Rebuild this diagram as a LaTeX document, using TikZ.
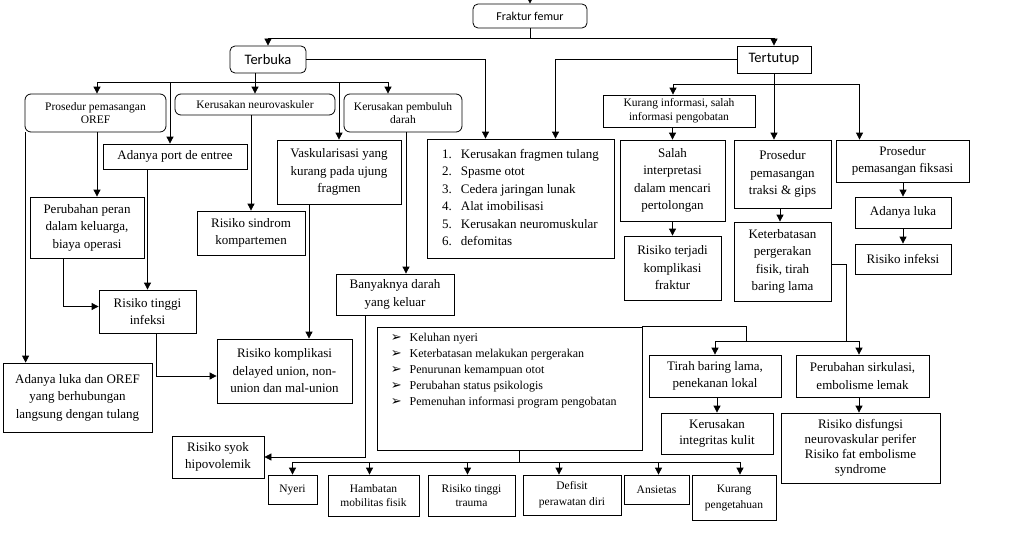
\documentclass[tikz,border=0pt]{standalone}
\usepackage{fontspec}
\setmainfont{Liberation Serif}
\newfontfamily\calibri{Carlito}
\newfontfamily\dejavu{DejaVu Sans}
\usetikzlibrary{arrows.meta, calc, positioning}

\tikzset{
  box/.style = {draw, line width=0.8pt, inner sep=1pt, align=center,
    font=\fontsize{13}{17.5}\selectfont},
  rbox/.style = {box, rounded corners=6pt},
  wh/.style 2 args = {minimum width=#1pt, minimum height=#2pt},
  smalltext/.style = {font=\fontsize{11.5}{#1}\selectfont},
  sanstext/.style = {font=\calibri\fontsize{#1}{#1}\selectfont},
  link/.style = {line width=0.8pt, -{Triangle[length=7pt,width=7pt]}},
  bus/.style = {line width=0.8pt},
}
\newcommand{\bulmark}{{\dejavu\fontsize{13}{13}\selectfont ➢}}

\begin{document}
\begin{tikzpicture}[x=1pt, y=-1pt]
  \useasboundingbox (0,0) rectangle (1027,535);

  % top level
  \coordinate (in) at (530,0);
  \node[rbox, rounded corners=5pt, wh={114}{24}, sanstext=12] (ff) at (530,16) {Fraktur femur};
  \node[rbox, rounded corners=5pt, wh={76}{27}, sanstext=14.5] (terbuka) at (268,59.5) {Terbuka};
  \node[box, wh={74}{27}, sanstext=14.5] (tertutup) at (774,59.5) {Tertutup};

  % terbuka branch
  \node[rbox, wh={141}{38}, smalltext=13.3] (oref) at (95.5,113) {Prosedur pemasangan\\OREF};
  \node[rbox, wh={160}{21}, smalltext=13.3] (neuro) at (255,104.5) {Kerusakan neurovaskuler};
  \node[rbox, wh={118}{38}, smalltext=13.3] (pembuluh) at (403,113) {Kerusakan pembuluh\\darah};
  \node[box, wh={144}{25}] (port) at (175,156.5) {Adanya port de entree};
  \node[box, wh={124}{64}] (vask) at (339,172) {Vaskularisasi yang\\kurang pada ujung\\fragmen};
  \node[box, wh={114}{61}] (peran) at (87,227.5) {Perubahan peran\\dalam keluarga,\\biaya operasi};
  \node[box, wh={108}{44}] (sindrom) at (251,233) {Risiko sindrom\\kompartemen};
  \node[box, wh={97}{43}] (inf) at (147.5,311.5) {Risiko tinggi\\infeksi};
  \node[box, wh={149}{69}] (luka) at (77.5,397.5) {Adanya luka dan OREF\\yang berhubungan\\langsung dengan tulang};
  \node[box, wh={135}{64}] (komp) at (284.5,371) {Risiko komplikasi\\delayed union, non-\\union dan mal-union};
  \node[box, wh={118}{41}] (banyak) at (395,294.5) {Banyaknya darah\\yang keluar};
  \node[box, wh={92}{42}] (syok) at (218,457) {Risiko syok\\hipovolemik};

  % shared list
  \node[box, wh={187}{119}] (list) at (520.5,198.5) {%
    \begin{tabular}{@{}l@{\hspace{9pt}}l@{}}
      1. & Kerusakan fragmen tulang\\
      2. & Spasme otot\\
      3. & Cedera jaringan lunak\\
      4. & Alat imobilisasi\\
      5. & Kerusakan neuromuskular\\
      6. & defomitas
    \end{tabular}};

  % tertutup branch
  \node[box, wh={152}{32}, smalltext=13.7] (info) at (679,111) {Kurang informasi, salah\\informasi pengobatan};
  \node[box, wh={105}{81}] (salah) at (672.5,180.5) {Salah\\interpretasi\\dalam mencari\\pertolongan};
  \node[box, wh={97}{64}] (rkf) at (672.5,268) {Risiko terjadi\\komplikasi\\fraktur};
  \node[box, wh={97}{68}] (traksi) at (782.5,174) {Prosedur\\pemasangan\\traksi \& gips};
  \node[box, wh={97}{79}] (keter) at (782.5,261.5) {Keterbatasan\\pergerakan\\fisik, tirah\\baring lama};
  \node[box, wh={133}{42}] (fiksasi) at (902.5,161) {Prosedur\\pemasangan fiksasi};
  \node[box, wh={96}{31}] (aluka) at (903,212.5) {Adanya luka};
  \node[box, wh={96}{30}] (rinf) at (903,259) {Risiko infeksi};

  % problems
  \node[box, wh={265}{123}] (bul) at (509.5,388.5) {};
  \node[anchor=north west, inner sep=0pt, align=left, font=\fontsize{12}{16}\selectfont,
        xshift=14pt, yshift=-3pt] (bultext) at (bul.north west) {%
    \begin{tabular}{@{}l@{\hspace{8pt}}l@{}}
      \bulmark & Keluhan nyeri\\
      \bulmark & Keterbatasan  melakukan pergerakan\\
      \bulmark & Penurunan kemampuan  otot\\
      \bulmark & Perubahan status psikologis\\
      \bulmark & Pemenuhan informasi program pengobatan
    \end{tabular}};
  \node[box, wh={49}{29}, smalltext=14.5] (nyeri) at (292.5,489.5) {Nyeri};
  \node[box, wh={91}{41}, smalltext=14.5] (hambatan) at (373.5,495.5) {Hambatan\\mobilitas  fisik};
  \node[box, wh={87}{41}, smalltext=14.5] (trauma) at (471.5,495.5) {Risiko tinggi\\trauma};
  \node[box, wh={98}{40}, smalltext=16] (defisit) at (572,495) {Defisit\\perawatan diri};
  \node[box, wh={65}{29}, smalltext=14.5] (ansietas) at (656.5,489.5) {Ansietas};
  \node[box, wh={84}{45}, smalltext=16] (kurang) at (734,497.5) {Kurang\\pengetahuan};
  \node[box, wh={132}{42}] (tirah) at (715,376) {Tirah baring lama,\\penekanan lokal};
  \node[box, wh={133}{42}] (sirk) at (862.5,376) {Perubahan sirkulasi,\\embolisme lemak};
  \node[box, wh={112}{41}, font=\fontsize{13}{16}\selectfont] (kulit) at (717,433.5) {Kerusakan\\integritas kulit};
  \node[box, wh={159}{70}, font=\fontsize{13}{15}\selectfont] (disf) at (860.5,448) {Risiko disfungsi\\neurovaskular perifer\\Risiko fat embolisme\\syndrome};

  % bus points
  \coordinate (b1) at (530,38);
  \coordinate (b2) at (255,82);
  \coordinate (b3) at (519,462);
  \coordinate (b4) at (746,341);
  \coordinate (b5) at (846,341);
  \coordinate (b6) at (775,84);

  % connectors from the top
  \draw[link] (in) -- (ff);
  \draw[bus] (ff) -- (b1);
  \draw[link] (b1) -| (terbuka);
  \draw[link] (b1) -| (tertutup);
  \draw[link] (terbuka.east) -| ([xshift=-35pt]list.north);
  \draw[link] (tertutup.west) -| ([xshift=35pt]list.north);

  % terbuka
  \draw[bus] ([xshift=-13pt]terbuka.south) -- (b2);
  \draw[link] (b2) -| ([xshift=1.5pt]oref.north);
  \draw[link] (b2) -| ([xshift=-5pt]port.north);
  \draw[link] (b2) -- (neuro);
  \draw[link] (b2) -| (vask);
  \draw[link] (b2) -| ([xshift=-15pt]pembuluh.north);
  \draw[link] ([xshift=1.5pt]oref.south) -- ([xshift=1.5pt]oref.south |- peran.north);
  \draw[link] ([xshift=1pt]oref.south west) -- ([xshift=1pt]oref.south west |- luka.north);
  \draw[link] (neuro.south -| sindrom) -- (sindrom);
  \draw[link] (port.south -| inf) -- (inf);
  \draw[link] ([xshift=-24pt]peran.south) |- ([yshift=5pt]inf.west);
  \draw[link] ([xshift=8.5pt]inf.south) |- ([yshift=-5pt]komp.west);
  \draw[link] ([xshift=-30pt]vask.south) -- ([xshift=-30pt]vask.south |- komp.north);
  \draw[link] ([xshift=3pt]pembuluh.south) -- ([xshift=3pt]pembuluh.south |- banyak.north);
  \draw[link] ([xshift=-30pt]banyak.south) |- (syok.east);

  % tertutup
  \draw[link] (tertutup) -- (tertutup |- traksi.north);
  \draw[link] (b6) -| ([xshift=-6pt]info.north);
  \draw[link] (b6) -| ([xshift=-43pt]fiksasi.north);
  \draw[link] (info.south -| salah) -- (salah);
  \draw[link] (salah) -- (rkf);
  \draw[link] ([xshift=-2.5pt]traksi.south) -- ([xshift=-2.5pt]traksi.south |- keter.north);
  \draw[link] (fiksasi.south -| aluka) -- (aluka);
  \draw[link] (aluka) -- (rinf);

  % problems
  \draw[bus] ([xshift=9.5pt]bul.south) -- (b3);
  \foreach \n/\dx in {nyeri/0, hambatan/-4, trauma/-4, defisit/-13, ansietas/2, kurang/6}
    \draw[link] (b3) -| ([xshift=\dx pt]\n.north);
  \draw[bus] (bul.north east) -| (b4);
  \draw[bus] ([yshift=-3pt]keter.east) -| (b5);
  \draw[link] (b4) -| (tirah);
  \draw[link] (b4) -| ([xshift=-3.5pt]sirk.north);
  \draw[link] (tirah.south -| kulit) -- (kulit);
  \draw[link] ([xshift=-3.5pt]sirk.south) -- ([xshift=-3.5pt]sirk.south |- disf.north);
\end{tikzpicture}
\end{document}
